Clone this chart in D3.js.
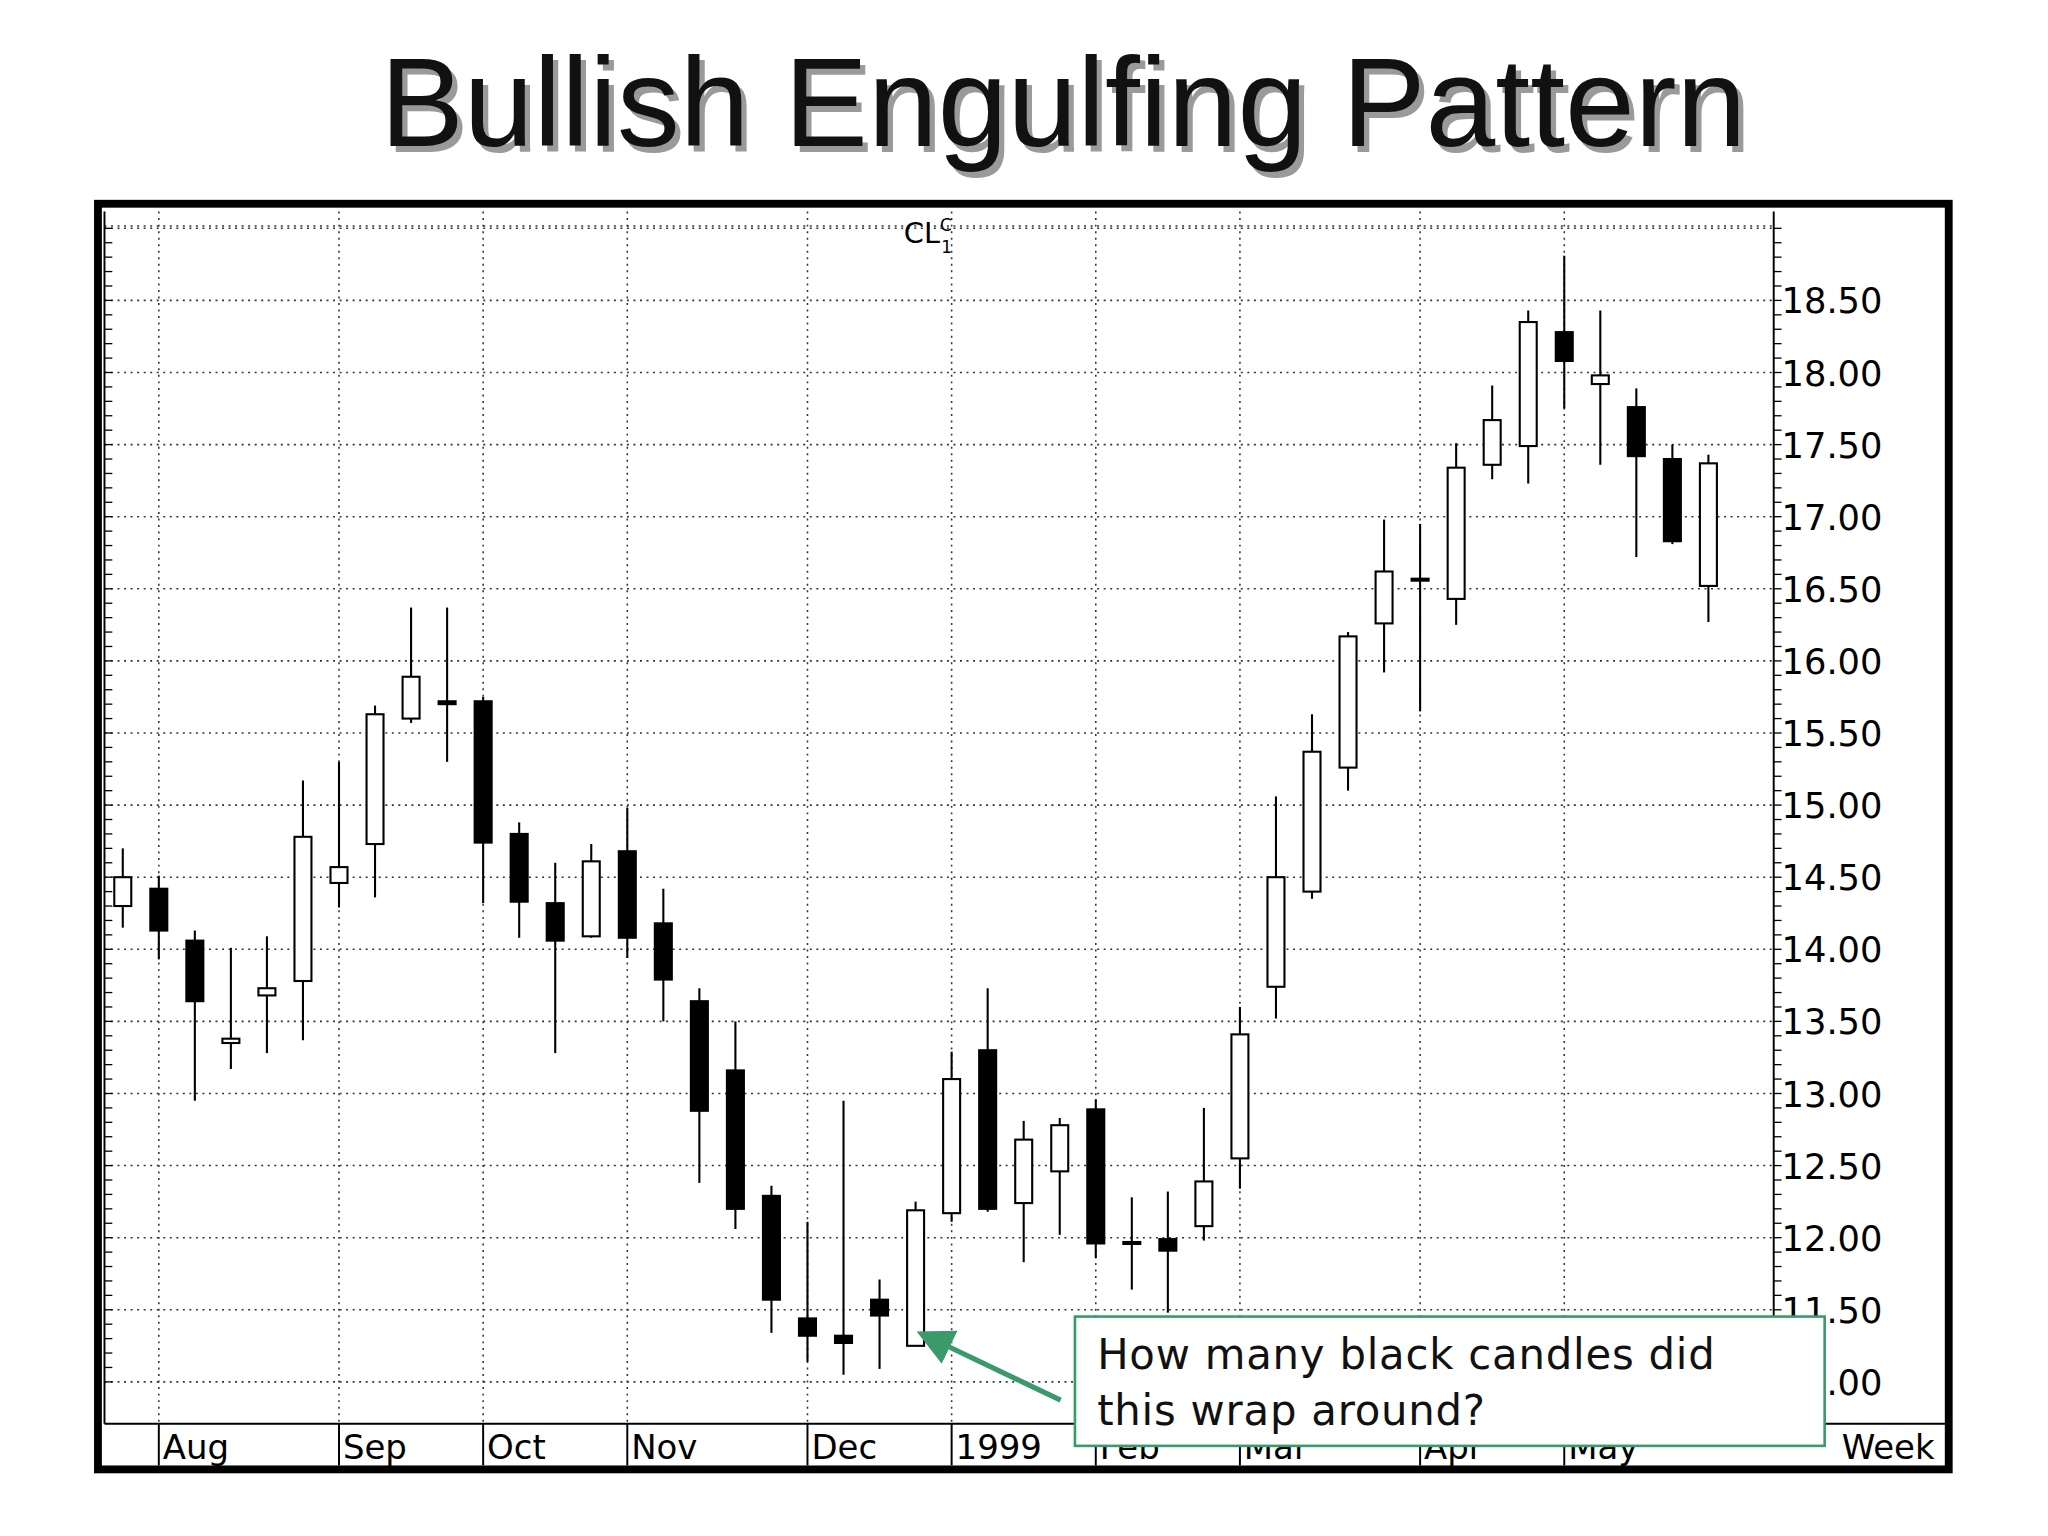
<!DOCTYPE html>
<html>
<head>
<meta charset="utf-8">
<script src="https://cdn.jsdelivr.net/npm/d3@7"></script>
<style>
  body { margin: 0; background: #fff; }
  svg { display: block; }
</style>
</head>
<body>
<div id="chart"></div>
<script>
// weekly candles, Aug 1998 - May 1999
const opens  = [14.30,14.42,14.06,13.35,13.68,13.78,14.46,14.73,15.60,15.72,15.72,14.80,14.32,14.09,14.68,14.18,13.64,13.16,12.29,11.44,11.32,11.57,11.25,12.17,13.30,12.24,12.46,12.89,11.97,11.99,12.08,12.55,13.74,14.40,15.26,16.26,16.57,16.43,17.36,17.49,18.28,17.92,17.76,17.40,16.52];
const closes = [14.50,14.13,13.64,13.38,13.73,14.78,14.57,15.63,15.89,15.70,14.74,14.33,14.06,14.61,14.08,13.79,12.88,12.20,11.57,11.32,11.27,11.46,12.19,13.10,12.20,12.68,12.78,11.96,11.96,11.91,12.39,13.41,14.50,15.37,16.17,16.62,16.57,17.34,17.67,18.35,18.08,17.98,17.42,16.83,17.37];
const highs  = [14.70,14.51,14.13,14.01,14.09,15.17,15.30,15.69,16.37,16.37,15.75,14.88,14.60,14.73,14.98,14.42,13.73,13.50,12.36,12.11,12.95,11.71,12.25,13.29,13.73,12.81,12.83,12.96,12.28,12.32,12.90,13.60,15.06,15.63,16.20,16.98,16.95,17.51,17.91,18.43,18.81,18.43,17.89,17.50,17.43];
const lows   = [14.15,13.93,12.95,13.17,13.28,13.37,14.29,14.36,15.57,15.30,14.32,14.08,13.28,14.08,13.94,13.50,12.38,12.06,11.34,11.14,11.05,11.09,11.25,12.11,12.18,11.83,12.02,11.86,11.64,11.48,11.98,12.34,13.52,14.35,15.10,15.92,15.65,16.25,17.26,17.23,17.75,17.36,16.72,16.81,16.27];

const monthLabels = ["Aug","Sep","Oct","Nov","Dec","1999","Feb","Mar","Apr","May"];
const monthIndex  = [1,6,10,14,19,23,27,31,36,40];
const priceTicks  = [11.00,11.50,12.00,12.50,13.00,13.50,14.00,14.50,15.00,15.50,16.00,16.50,17.00,17.50,18.00,18.50];

const W = 1568, H = 1176;
const svg = d3.select("#chart").append("svg")
  .attr("width", 2048).attr("height", 1536)
  .attr("viewBox", `0 0 ${W} ${H}`);

const plot = { left: 80, right: 1358, top: 162, bottom: 1090 };

const x = d3.scaleLinear().domain([0, opens.length - 1]).range([94, 1308]);
const y = d3.scaleLinear().domain([11, 18.5]).range([1058, 230]);

// title with shadow
const title = "Bullish Engulfing Pattern";
svg.append("text").attr("x", 818).attr("y", 116).attr("text-anchor", "middle")
  .attr("font-family", "Liberation Sans, Arial, sans-serif").attr("font-size", 96)
  .attr("fill", "#9a9a9a").text(title);
svg.append("text").attr("x", 814).attr("y", 112).attr("text-anchor", "middle")
  .attr("font-family", "Liberation Sans, Arial, sans-serif").attr("font-size", 96)
  .attr("fill", "#111").text(title);

// frame
svg.append("rect").attr("x", 75).attr("y", 156).attr("width", 1417).attr("height", 969)
  .attr("fill", "#fff").attr("stroke", "#000").attr("stroke-width", 6);

// horizontal grid
const hg = priceTicks.concat([19.0]);
svg.append("g").selectAll("line").data(hg).join("line")
  .attr("x1", plot.left).attr("x2", plot.right)
  .attr("y1", d => y(d)).attr("y2", d => y(d))
  .attr("stroke", "#333").attr("stroke-width", 1.2).attr("stroke-dasharray", "1.5,3.5");
svg.append("line").attr("x1", plot.left).attr("x2", plot.right)
  .attr("y1", 173).attr("y2", 173)
  .attr("stroke", "#333").attr("stroke-width", 1.2).attr("stroke-dasharray", "1.5,3.5");

// vertical grid
svg.append("g").selectAll("line").data(monthIndex).join("line")
  .attr("x1", d => x(d)).attr("x2", d => x(d))
  .attr("y1", plot.top).attr("y2", plot.bottom)
  .attr("stroke", "#333").attr("stroke-width", 1.2).attr("stroke-dasharray", "1.5,3.5");

// plot border lines
svg.append("line").attr("x1", plot.left).attr("x2", plot.left).attr("y1", plot.top).attr("y2", plot.bottom).attr("stroke", "#000").attr("stroke-width", 1.5);
svg.append("line").attr("x1", plot.right).attr("x2", plot.right).attr("y1", plot.top).attr("y2", plot.bottom).attr("stroke", "#000").attr("stroke-width", 1.5);
svg.append("line").attr("x1", plot.left).attr("x2", plot.right + 134).attr("y1", plot.bottom).attr("y2", plot.bottom).attr("stroke", "#000").attr("stroke-width", 1.5);

// minor ticks left and right
const minor = d3.range(110, 191).map(v => v / 10);
svg.append("g").selectAll("line").data(minor.filter(d => y(d) > plot.top && y(d) < plot.bottom)).join("line")
  .attr("x1", plot.left).attr("x2", plot.left + 6)
  .attr("y1", d => y(d)).attr("y2", d => y(d)).attr("stroke", "#000");
svg.append("g").selectAll("line").data(minor.filter(d => y(d) > plot.top && y(d) < plot.bottom)).join("line")
  .attr("x1", plot.right).attr("x2", plot.right + 6)
  .attr("y1", d => y(d)).attr("y2", d => y(d)).attr("stroke", "#000");

// right price axis labels
svg.append("g").selectAll("text").data(priceTicks).join("text")
  .attr("x", plot.right + 6).attr("y", d => y(d) + 10)
  .attr("font-family", "DejaVu Sans, Verdana, sans-serif").attr("font-size", 27)
  .attr("fill", "#000").text(d => d.toFixed(2));

// month labels + separators
svg.append("g").selectAll("line").data(monthIndex).join("line")
  .attr("x1", d => x(d)).attr("x2", d => x(d))
  .attr("y1", plot.bottom).attr("y2", 1122).attr("stroke", "#000").attr("stroke-width", 1.5);
svg.append("g").selectAll("text").data(monthLabels).join("text")
  .attr("x", (d, i) => x(monthIndex[i]) + 3).attr("y", 1117)
  .attr("font-family", "DejaVu Sans, Verdana, sans-serif").attr("font-size", 26)
  .text(d => d);
svg.append("text").attr("x", 1410).attr("y", 1117)
  .attr("font-family", "DejaVu Sans, Verdana, sans-serif").attr("font-size", 26).text("Week");

// symbol label
const sym = svg.append("text").attr("x", 692).attr("y", 186)
  .attr("font-family", "DejaVu Sans, Verdana, sans-serif").attr("font-size", 22);
sym.append("tspan").text("CL");
sym.append("tspan").attr("font-size", 13).attr("dy", -9).text("C");
sym.append("tspan").attr("font-size", 13).attr("dx", -8).attr("dy", 17).text("1");

// candles
const idx = d3.range(opens.length);
const bw = 13;
const candles = svg.append("g");
candles.selectAll("line").data(idx).join("line")
  .attr("x1", i => x(i)).attr("x2", i => x(i))
  .attr("y1", i => y(highs[i])).attr("y2", i => y(lows[i]))
  .attr("stroke", "#000").attr("stroke-width", 1.6);
candles.selectAll("rect").data(idx).join("rect")
  .attr("x", i => x(i) - bw / 2)
  .attr("y", i => y(Math.max(opens[i], closes[i])))
  .attr("width", bw)
  .attr("height", i => Math.max(1.5, Math.abs(y(opens[i]) - y(closes[i]))))
  .attr("fill", i => closes[i] < opens[i] ? "#000" : "#fff")
  .attr("stroke", "#000").attr("stroke-width", 1.6);

// callout
const green = "#3a9a6a";
svg.append("defs").append("marker").attr("id", "ah")
  .attr("viewBox", "0 0 10 10").attr("refX", 2).attr("refY", 5)
  .attr("markerWidth", 7).attr("markerHeight", 7).attr("orient", "auto")
  .append("path").attr("d", "M0,0 L10,5 L0,10 Z").attr("fill", green);
svg.append("line").attr("x1", 812).attr("y1", 1072).attr("x2", 722).attr("y2", 1029)
  .attr("stroke", green).attr("stroke-width", 4).attr("marker-end", "url(#ah)");
svg.append("rect").attr("x", 823).attr("y", 1008).attr("width", 574).attr("height", 99)
  .attr("fill", "#fff").attr("stroke", green).attr("stroke-width", 2);
const callout = ["How many black candles did", "this wrap around?"];
svg.append("g").selectAll("text").data(callout).join("text")
  .attr("x", 840).attr("y", (d, i) => 1048 + i * 43)
  .attr("font-family", "DejaVu Sans, Verdana, sans-serif").attr("font-size", 32)
  .attr("letter-spacing", 0.6).attr("fill", "#111").text(d => d);
</script>
</body>
</html>
